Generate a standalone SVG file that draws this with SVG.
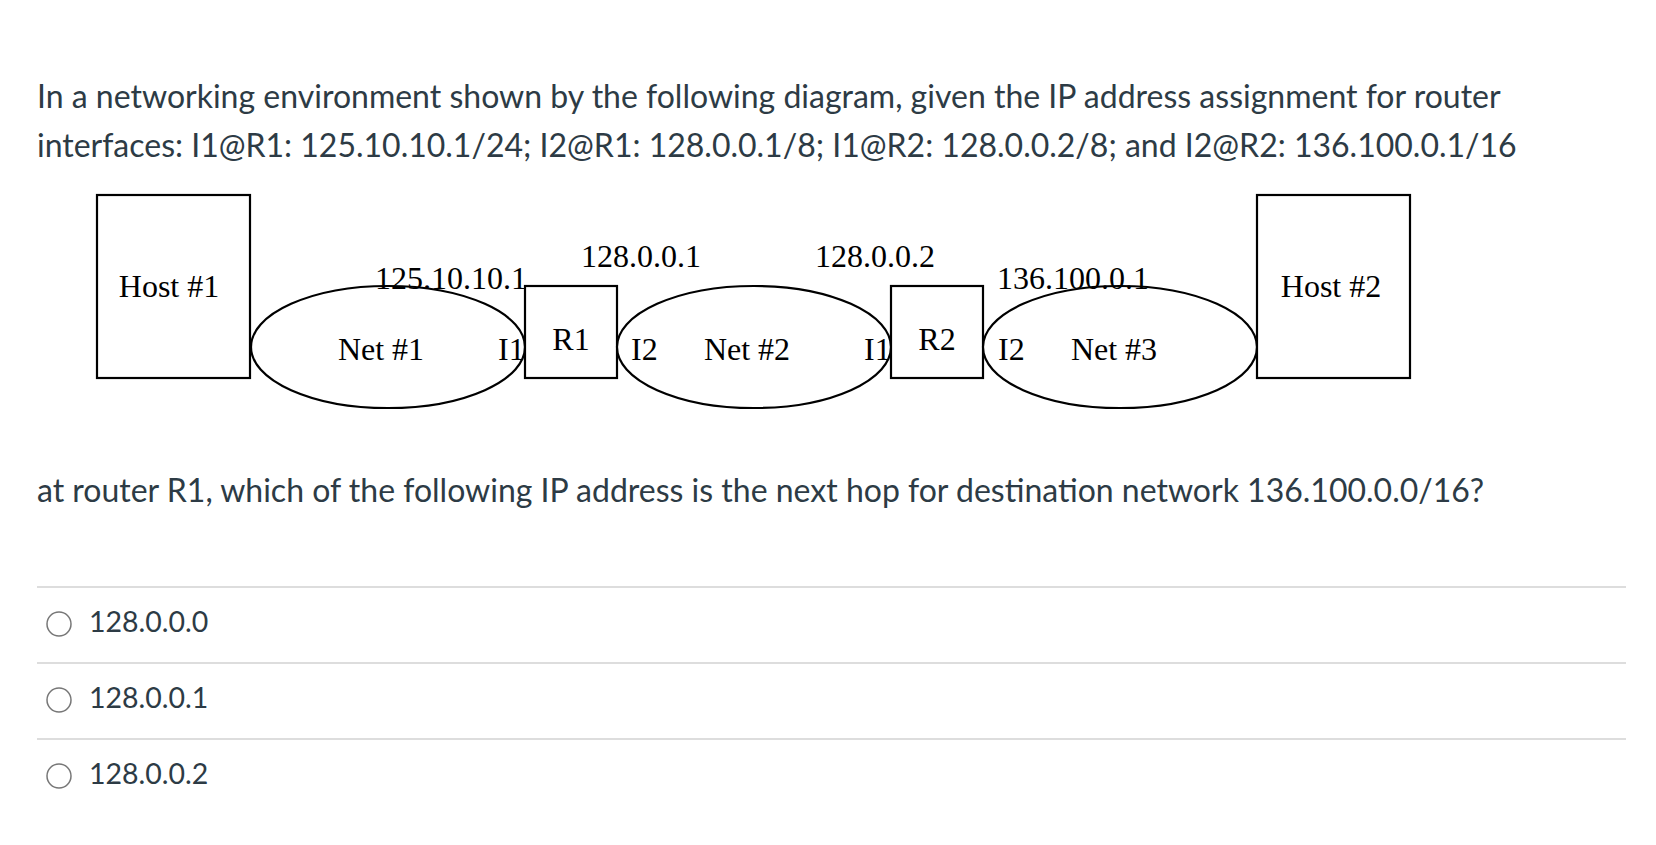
<svg xmlns="http://www.w3.org/2000/svg" width="1656" height="845" viewBox="0 0 1656 845">
<style>
.q{font-family:Lato,"Liberation Sans",sans-serif;font-size:32px;fill:#2d3b45}
.o{font-family:Lato,"Liberation Sans",sans-serif;font-size:28.5px;fill:#2d3b45}
.t{font-family:"Liberation Serif",serif;font-size:32px;fill:#000}
.s{fill:#fff;stroke:#000;stroke-width:2.2}
.sep{stroke:#ddd;stroke-width:2}
.r{fill:#fff;stroke:#777;stroke-width:1.5}
</style>
<rect width="1656" height="845" fill="#fff"/>
<text class="q" x="37" y="108">In a networking environment shown by the following diagram, given the IP address assignment for router</text>
<text class="q" x="37" y="157">interfaces: I1@R1: 125.10.10.1/24; I2@R1: 128.0.0.1/8; I1@R2: 128.0.0.2/8; and I2@R2: 136.100.0.1/16</text>
<g id="connectors"></g>
<g id="host1"><rect class="s" x="97" y="195" width="153" height="183"/><text class="t" x="169" y="297" text-anchor="middle">Host #1</text></g>
<g id="net1"><ellipse class="s" cx="388" cy="347" rx="137" ry="61"/><text class="t" x="381" y="360" text-anchor="middle">Net #1</text><text class="t" x="498" y="360">I1</text></g>
<g id="r1"><rect class="s" x="525" y="286" width="92" height="92"/><text class="t" x="571" y="350" text-anchor="middle">R1</text></g>
<g id="net2"><ellipse class="s" cx="754" cy="347" rx="137" ry="61"/><text class="t" x="631" y="360">I2</text><text class="t" x="747" y="360" text-anchor="middle">Net #2</text><text class="t" x="864" y="360">I1</text></g>
<g id="r2"><rect class="s" x="891" y="286" width="92" height="92"/><text class="t" x="937" y="350" text-anchor="middle">R2</text></g>
<g id="net3"><ellipse class="s" cx="1120" cy="347" rx="137" ry="61"/><text class="t" x="998" y="360">I2</text><text class="t" x="1114" y="360" text-anchor="middle">Net #3</text></g>
<g id="host2"><rect class="s" x="1257" y="195" width="153" height="183"/><text class="t" x="1331" y="297" text-anchor="middle">Host #2</text></g>
<g id="labels">
<text class="t" x="375" y="289">125.10.10.1</text>
<text class="t" x="581" y="267">128.0.0.1</text>
<text class="t" x="815" y="267">128.0.0.2</text>
<text class="t" x="997" y="289">136.100.0.1</text>
</g>
<text class="q" x="37" y="502">at router R1, which of the following IP address is the next hop for destination network 136.100.0.0/16?</text>
<line class="sep" x1="37" y1="587" x2="1626" y2="587"/>
<line class="sep" x1="37" y1="663" x2="1626" y2="663"/>
<line class="sep" x1="37" y1="739" x2="1626" y2="739"/>
<circle class="r" cx="59" cy="624" r="12"/><text class="o" x="89" y="632">128.0.0.0</text>
<circle class="r" cx="59" cy="700" r="12"/><text class="o" x="89" y="708">128.0.0.1</text>
<circle class="r" cx="59" cy="776" r="12"/><text class="o" x="89" y="784">128.0.0.2</text>
</svg>
